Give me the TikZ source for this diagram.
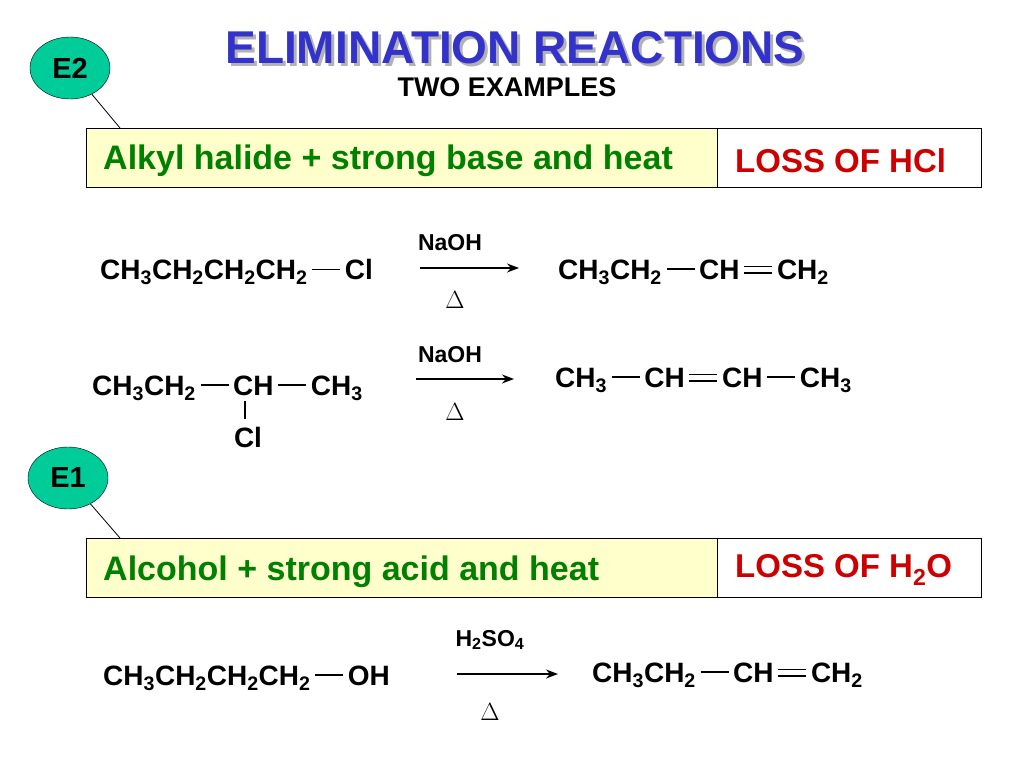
\documentclass[tikz,border=0pt]{standalone}
\usepackage{fontspec}
\setmainfont{Liberation Sans}
\usetikzlibrary{arrows.meta,shapes.geometric}
\newcommand{\sbond}{\,\rule[0.33em]{1.0em}{1.5pt}\,}
\newcommand{\dbond}{\,\raisebox{0.2em}{\rlap{\rule{1.0em}{1.5pt}}\raisebox{0.22em}{\rule{1.0em}{1.5pt}}}\,}
\newcommand{\sub}[1]{\textsubscript{#1}}
\definecolor{tgreen}{RGB}{0,204,153}
\definecolor{dgreen}{RGB}{0,128,0}
\definecolor{lyel}{RGB}{255,255,204}
\definecolor{tblue}{RGB}{51,51,204}
\definecolor{tred}{RGB}{204,0,0}
\begin{document}
\begin{tikzpicture}[x=1pt,y=-1pt,
  chem/.style={anchor=west,inner sep=0,font=\bfseries\fontsize{28}{32}\selectfont},
  small/.style={inner sep=0,font=\bfseries\fontsize{23}{26}\selectfont},
  delta/.style={inner sep=0,font=\fontsize{28}{30}\selectfont},
  tag/.style={ellipse,draw=black,fill=tgreen,minimum width=80,minimum height=62,inner sep=0,font=\bfseries\fontsize{29}{32}\selectfont},
  ybox/.style={draw=black,fill=lyel,line width=0.8pt},
  wbox/.style={draw=black,fill=white,line width=0.8pt},
  arr/.style={-{Stealth[length=12pt,width=9pt]},line width=1.4pt},
  head/.style={anchor=west,inner sep=0,font=\bfseries\fontsize{34}{38}\selectfont,text=dgreen},
  loss/.style={anchor=west,inner sep=0,font=\bfseries\fontsize{33}{36}\selectfont,text=tred}]
\useasboundingbox (0,0) rectangle (1024,768);
% title
\node[inner sep=0,font=\bfseries\fontsize{46}{50}\selectfont,text=gray!60] at (518,51) {ELIMINATION REACTIONS};
\node[inner sep=0,font=\bfseries\fontsize{46}{50}\selectfont,text=tblue] (title) at (515,48) {ELIMINATION REACTIONS};
\node[inner sep=0,font=\bfseries\fontsize{27}{30}\selectfont] (subt) at (507,87) {TWO EXAMPLES};
% E2
\fill[ybox] (86,128) rectangle (717,187);
\fill[wbox] (717,128) rectangle (981,187);
\node[tag] (e2) at (70,68) {E2};
\coordinate (c2) at (120,128);
\draw[line width=0.8pt] (e2) -- (c2);
\node[head] (h1) at (103,161) {Alkyl halide + strong base and heat};
\node[loss] (l1) at (735,161) {LOSS OF HCl};
% reaction 1
\node[chem] (r1) at (100,272) {CH\sub{3}CH\sub{2}CH\sub{2}CH\sub{2}\sbond Cl};
\coordinate (a1s) at (420,268); \coordinate (a1e) at (519,268);
\draw[arr] (a1s) -- (a1e);
\node[small] (n1) at (450,243) {NaOH};
\node[delta] (d1) at (455,300) {$\Delta$};
\node[chem] (p1) at (558,272) {CH\sub{3}CH\sub{2}\sbond CH\dbond CH\sub{2}};
% reaction 2
\node[chem] (r2) at (92,388) {CH\sub{3}CH\sub{2}\sbond CH\sbond CH\sub{3}};
\coordinate (v1) at (245,401); \coordinate (v2) at (245,419);
\draw[line width=1.5pt] (v1) -- (v2);
\node[chem,anchor=center] (cl) at (248,437) {Cl};
\coordinate (a2s) at (416,379); \coordinate (a2e) at (514,379);
\draw[arr] (a2s) -- (a2e);
\node[small] (n2) at (450,355) {NaOH};
\node[delta] (d2) at (455,412) {$\Delta$};
\node[chem] (p2) at (555,380) {CH\sub{3}\sbond CH\dbond CH\sbond CH\sub{3}};
% E1
\fill[ybox] (86,538) rectangle (717,597);
\fill[wbox] (717,538) rectangle (981,597);
\node[tag] (e1) at (68,478) {E1};
\coordinate (c1) at (120,538);
\draw[line width=0.8pt] (e1) -- (c1);
\node[head] (h2) at (103,572) {Alcohol + strong acid and heat};
\node[loss] (l2) at (735,570) {LOSS OF H\sub{2}O};
% reaction 3
\node[chem] (r3) at (103,678) {CH\sub{3}CH\sub{2}CH\sub{2}CH\sub{2}\sbond OH};
\coordinate (a3s) at (457,674); \coordinate (a3e) at (558,674);
\draw[arr] (a3s) -- (a3e);
\node[small] (n3) at (490,640) {H\sub{2}SO\sub{4}};
\node[delta] (d3) at (490,712) {$\Delta$};
\node[chem] (p3) at (592,675) {CH\sub{3}CH\sub{2}\sbond CH\dbond CH\sub{2}};
\end{tikzpicture}
\end{document}
